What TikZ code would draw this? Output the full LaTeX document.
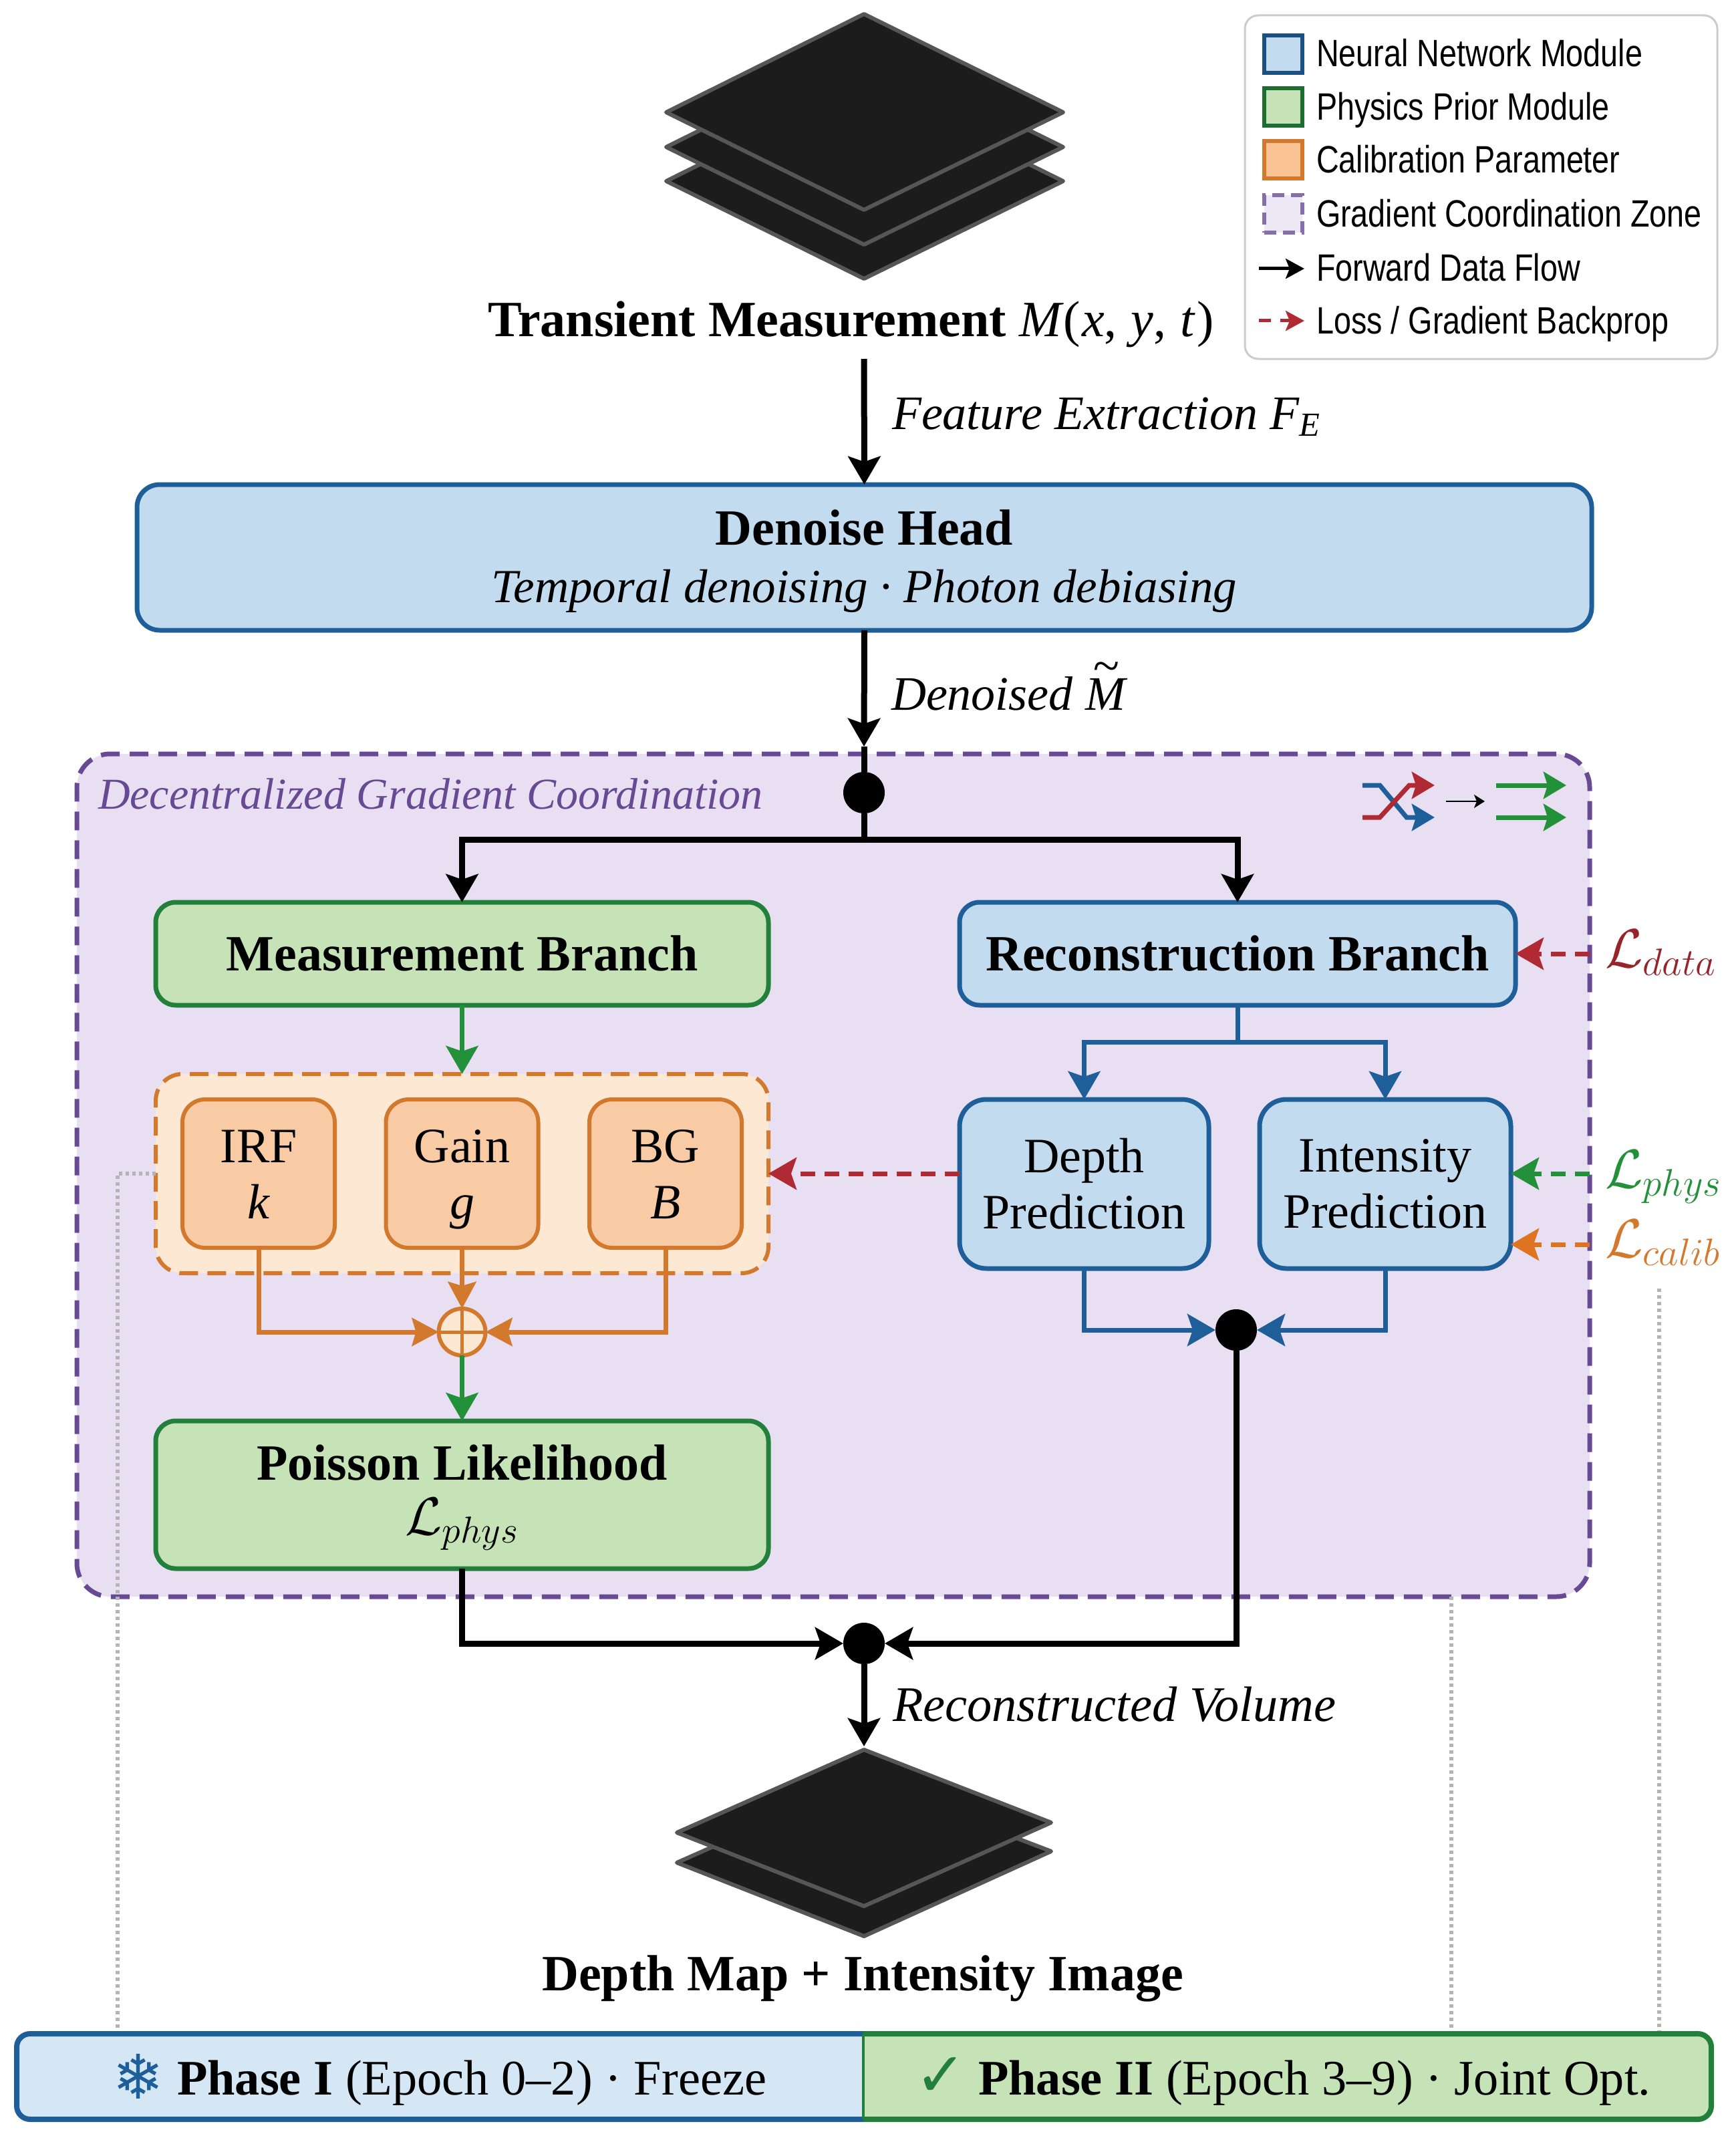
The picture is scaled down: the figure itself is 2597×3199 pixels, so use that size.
\RequirePackage{fix-cm}
\documentclass[tikz,border=0pt]{standalone}
\usepackage{fontspec}
\setmainfont{Liberation Serif}
\newfontfamily\legendfont[FakeStretch=0.82]{Liberation Sans}
\newfontfamily\symbolfont{DejaVu Sans}
\usetikzlibrary{arrows.meta,calc}

\definecolor{nnfill}{HTML}{C3DBEF}
\definecolor{nnline}{HTML}{1F5F99}
\definecolor{phfill}{HTML}{C5E3B6}
\definecolor{phline}{HTML}{23803A}
\definecolor{calfill}{HTML}{F8CBA4}
\definecolor{calline}{HTML}{D2792E}
\definecolor{calzone}{HTML}{FDE8D3}
\definecolor{zonefill}{HTML}{E8DFF2}
\definecolor{zoneline}{HTML}{674A93}
\definecolor{lossred}{HTML}{B02A33}
\definecolor{lossgreen}{HTML}{23903A}
\definecolor{lossorange}{HTML}{DD7420}
\definecolor{dotgray}{HTML}{B4B4B4}
\definecolor{sheet}{HTML}{1C1C1C}
\definecolor{sheetedge}{HTML}{565656}

\newcommand\fa{\fontsize{38}{44}\selectfont}
\newcommand\fb{\fontsize{37}{42}\selectfont}
\newcommand\fc{\fontsize{37.2}{42}\selectfont}
\newcommand\fd{\fontsize{37.2}{42}\selectfont}
\newcommand\lowstrut{\rule[-9pt]{0pt}{9pt}}
\newcommand\topstrut{\rule{0pt}{34pt}}

\tikzset{
  x=0.5pt, y=-0.5pt,
  wh/.style 2 args={minimum width=#1*0.5pt, minimum height=#2*0.5pt},
  plain/.style={inner sep=0pt, outer sep=0pt},
  card/.style={plain, rectangle, align=center, line width=3.5pt},
  nnbox/.style={card, draw=nnline, fill=nnfill, rounded corners=#1},
  nnbox/.default=15pt,
  phbox/.style={card, draw=phline, fill=phfill, rounded corners=15pt},
  calbox/.style={card, draw=calline, fill=calfill, rounded corners=17pt, line width=3pt, wh={228}{222}, font=\fb},
  zonebox/.style={plain, draw=zoneline, fill=zonefill, line width=3.5pt, rounded corners=25pt, dash pattern=on 14pt off 7.5pt},
  calzonebox/.style={plain, draw=calline, fill=calzone, line width=3pt, rounded corners=20pt, dash pattern=on 14pt off 7pt},
  joint/.style={plain, circle, fill=black, minimum size=31pt},
  head/.style={-{Stealth[length=21pt,width=24pt,inset=4pt]}},
  fwd/.style={head, line width=4.5pt, black},
  blackline/.style={line width=4.5pt, black},
  nnflow/.style={head, line width=3.5pt, nnline},
  bluestem/.style={line width=3.5pt, nnline},
  phflow/.style={head, line width=3.5pt, lossgreen},
  calflow/.style={line width=3.5pt, calline, -{Stealth[length=20pt,width=21pt,inset=3pt]}},
  lossflow/.style={head, line width=3.5pt, dash pattern=on 11pt off 7pt, draw=#1},
  guide/.style={line width=3pt, dotgray, dash pattern=on 2.5pt off 2.5pt},
  sheetface/.style={draw=sheetedge, fill=sheet, line width=3pt, line join=round},
  swatch/.style={plain, wh={57}{56}, line width=3pt},
  legtext/.style={plain, anchor=base west, font=\legendfont\fontsize{28.5}{33}\selectfont},
  label/.style={plain, anchor=base west},
  mini/.style={line width=3.5pt, -{Stealth[length=17pt,width=20pt,inset=3pt]}},
}

\begin{document}
\begin{tikzpicture}
\useasboundingbox (0,0) rectangle (2597,3199);

% input stack of three sheets
\foreach \d in {103,52,0}{
  \draw[sheetface] (1293,{21+\d}) -- (1591,{168+\d}) -- (1293,{314+\d}) -- (997,{168+\d}) -- cycle;
}
\node[label, font=\fa] (title) at (730,503) {\textbf{Transient Measurement} \textit{M}(\kern1pt\textit{x},\kern1pt{} \textit{y},\kern1pt{} \textit{t}\kern1pt)};

% denoise head
\coordinate (inTop) at (1293,537);
\node[nnbox=17pt, wh={2177}{218}, font=\fb] (den) at (1293.5,834) {\rule{0pt}{32pt}\fa\textbf{Denoise Head}\\[1pt]\fontsize{35.5}{42}\selectfont\textit{Temporal denoising · Photon debiasing}};
\draw[fwd] (inTop) -- (den.north);
\node[label, font=\fontsize{36}{42}\selectfont] (fe) at (1335,642) {\textit{Feature Extraction} $\mathit{F}_{\mathit{E}}$};

% gradient coordination zone
\node[zonebox, wh={2264}{1261}] (zone) at (1247,1758.5) {};
\node[label, font=\fontsize{33}{38}\selectfont, text=zoneline] (zonetitle) at (147,1210) {\textit{Decentralized Gradient Coordination}};

% guide lines down to the phase bar
\coordinate (phA) at (176,3043);
\coordinate (phB0) at (2172,2389);
\coordinate (phB) at (2172,3043);
\coordinate (phC0) at (2483,1928);
\coordinate (phC) at (2483,3043);
\draw[guide] (phB0) -- (phB);
\draw[guide] (phC0) -- (phC);

% entry junction and split
\coordinate (tipA) at (1293,1117);
\coordinate (split) at (1293,1256);
\node[joint] (d1) at (1293,1186) {};
\draw[fwd] (den.south) -- (tipA);
\draw[blackline] (tipA) -- (d1.north);
\draw[blackline] (d1.south) -- (split);
\node[label, font=\fontsize{36}{42}\selectfont] (dn) at (1334,1062) {\textit{Denoised} \rlap{\kern5.5pt\raisebox{21pt}{\textit{\char"7E}}}\textit{M}};

% branches
\node[phbox, wh={917}{154}, font=\fa] (meas) at (691.5,1427) {\textbf{Measurement Branch}};
\node[nnbox, wh={832}{154}, font=\fa] (recon) at (1852,1427) {\textbf{Reconstruction Branch}};
\draw[fwd] (split) -| (meas.north);
\draw[fwd] (split) -| (recon.north);

% calibration group
\node[calzonebox, wh={917}{298}] (group) at (691.5,1756) {};
\draw[guide] (group.west) -| (phA);
\node[calbox] (irf) at (387,1756) {\topstrut IRF\\\textit{k}\lowstrut};
\node[calbox] (gain) at (691.5,1756) {\topstrut Gain\\\textit{g}\lowstrut};
\node[calbox] (bg) at (996,1756) {\topstrut BG\\\textit{B}\lowstrut};
\draw[phflow] (meas.south) -- (group.north);

% summation and likelihood
\node[plain, circle, draw=calline, fill=calzone, line width=3pt, minimum size=35pt] (sum) at (691.5,1993) {};
\draw[line width=2.5pt, calline] (sum.north) -- (sum.south);
\draw[line width=2.5pt, calline] (sum.west) -- (sum.east);
\draw[calflow] (irf.south) |- (sum.west);
\draw[calflow] (gain.south) -- (sum.north);
\draw[calflow] (bg.south) |- (sum.east);
\node[phbox, wh={917}{221}, font=\fb] (pois) at (691.5,2236.5) {\rule{0pt}{30pt}\fa\textbf{Poisson Likelihood}\\[-1pt]\fontsize{40}{44}\selectfont$\mathcal{L}_{phys}$};
\draw[phflow] (sum.south) -- (pois.north);

% reconstruction predictions
\coordinate (split2) at (1852,1559);
\node[nnbox=20pt, wh={373}{253}, font=\fb] (depth) at (1622.5,1771.5) {Depth\\Prediction};
\node[nnbox=20pt, wh={376}{253}, font=\fb] (inten) at (2073,1771.5) {Intensity\\Prediction};
\draw[bluestem] (recon.south) -- (split2);
\draw[nnflow] (split2) -| (depth.north);
\draw[nnflow] (split2) -| (inten.north);
\node[joint] (d2) at (1850,1990) {};
\draw[nnflow] (depth.south) |- (d2.west);
\draw[nnflow] (inten.south) |- (d2.east);
\draw[lossflow=lossred] (group.east -| depth.west) -- (group.east);

% losses
\coordinate (lossD) at (recon.east -| zone.east);
\coordinate (lossP) at (2379,1756);
\coordinate (lossC) at (2379,1862);
\draw[lossflow=lossred] (lossD) -- (recon.east);
\draw[lossflow=lossgreen] (lossP) -- (lossP -| inten.east);
\draw[lossflow=lossorange] (lossC) -- (lossC -| inten.east);
\node[label, font=\fontsize{41}{46}\selectfont, text=lossred!85!black] (ldata) at (2402,1447) {$\mathcal{L}_{data}$};
\node[label, font=\fontsize{41}{46}\selectfont, text=lossgreen] (lphys) at (2402,1777) {$\mathcal{L}_{phys}$};
\node[label, font=\fontsize{41}{46}\selectfont, text=calline] (lcalib) at (2402,1881) {$\mathcal{L}_{calib}$};

% fusion into the output
\node[joint] (d3) at (1293,2459) {};
\draw[fwd] (pois.south) |- (d3.west);
\draw[fwd] (d2.south) |- (d3.east);
\coordinate (outTop) at (1293,2613);
\draw[fwd] (d3.south) -- (outTop);
\node[label, font=\fc] (rv) at (1336,2575) {\textit{Reconstructed Volume}};

% output stack of two sheets
\draw[sheetface] (1293,2663) -- (1573,2770) -- (1293,2897) -- (1013,2787) -- cycle;
\draw[sheetface] (1293,2618) -- (1573,2727) -- (1293,2852) -- (1013,2742) -- cycle;
\node[plain, font=\fa, anchor=base] (out) at (1291,2978) {\textbf{Depth Map + Intensity Image}};

% coordination icon
\coordinate (cbS) at (2039,1175); \coordinate (cbE) at (2147,1223);
\coordinate (crS) at (2039,1223); \coordinate (crE) at (2147,1175);
\coordinate (iaS) at (2164,1199); \coordinate (iaE) at (2222,1199);
\coordinate (g1S) at (2239,1175); \coordinate (g1E) at (2344,1175);
\coordinate (g2S) at (2239,1223); \coordinate (g2E) at (2344,1223);
\draw[mini, nnline] (cbS) -- ++(26,0) -- ++(40,48) -- (cbE);
\draw[mini, lossred] (crS) -- ++(26,0) -- ++(44,-48) -- (crE);
\draw[line width=1.2pt, black, -{Stealth[length=8pt,width=10pt,inset=2pt]}] (iaS) -- (iaE);
\draw[mini, lossgreen] (g1S) -- (g1E);
\draw[mini, lossgreen] (g2S) -- (g2E);

% phase bar
\draw[line width=4pt, draw=nnline, fill=nnfill!70!white, rounded corners=10pt]
  (1292,3043) -- (25,3043) -- (25,3171) -- (1292,3171);
\draw[line width=4pt, draw=phline, fill=phfill, rounded corners=10pt]
  (1292,3043) -- (2561,3043) -- (2561,3171) -- (1292,3171);
\draw[line width=2pt, draw=phline] (1292,3043) -- (1292,3171);
\node[plain, font=\symbolfont\fontsize{46}{50}\selectfont, text=nnline] (flake) at (207,3107) {❄};
\node[label, font=\fd] (ph1) at (265,3134) {\textbf{Phase I} (Epoch 0–2) · Freeze};
\node[plain, font=\symbolfont\fontsize{46}{50}\selectfont, text=phline] (tick) at (1408,3107) {✓};
\node[label, font=\fd] (ph2) at (1464,3134) {\textbf{Phase II} (Epoch 3–9) · Joint Opt.};

% legend
\node[plain, rectangle, draw=black!20, fill=white, line width=1.5pt, rounded corners=10pt, wh={707}{514}] (legend) at (2216.5,280) {};
\node[swatch, draw=nnline!85!black, fill=nnfill] (s1) at (1920.5,81) {};
\node[swatch, draw=phline!85!black, fill=phfill] (s2) at (1920.5,160.5) {};
\node[swatch, draw=calline, fill=calfill!90!orange] (s3) at (1920.5,239.5) {};
\node[swatch, draw=zoneline!80!white, fill=zonefill!70!white, dash pattern=on 9pt off 5pt] (s4) at (1920.5,320.5) {};
\node[legtext] (t1) at (1970,100) {Neural Network Module};
\node[legtext] (t2) at (1970,180) {Physics Prior Module};
\node[legtext] (t3) at (1970,259) {Calibration Parameter};
\node[legtext] (t4) at (1970,340) {Gradient Coordination Zone};
\node[legtext] (t5) at (1970,421) {Forward Data Flow};
\node[legtext] (t6) at (1970,500) {Loss / Gradient Backprop};
\coordinate (laS) at (1884,402); \coordinate (laE) at (1952,402);
\coordinate (lbS) at (1884,480); \coordinate (lbE) at (1952,480);
\draw[line width=2.5pt, black, -{Stealth[length=14pt,width=15pt,inset=3pt]}] (laS) -- (laE);
\draw[line width=2.5pt, lossred, dash pattern=on 9pt off 7pt, -{Stealth[length=14pt,width=15pt,inset=3pt]}] (lbS) -- (lbE);
\end{tikzpicture}
\end{document}
